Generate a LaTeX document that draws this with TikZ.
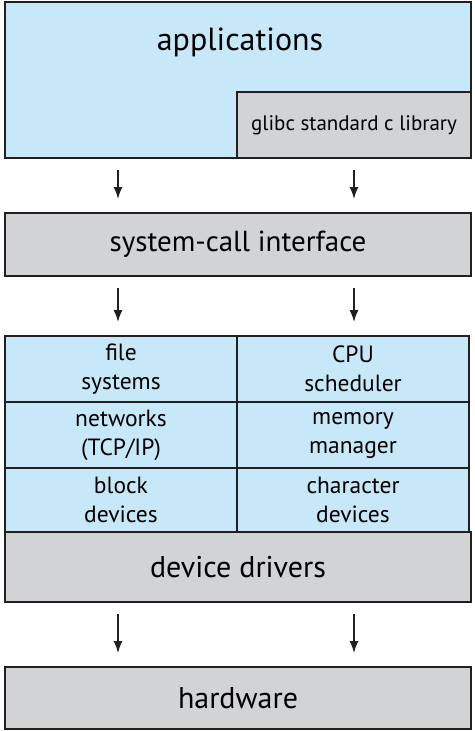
\documentclass[tikz,border=0pt]{standalone}
\usepackage{fontspec}
\setmainfont{PT Sans}
\usetikzlibrary{arrows.meta}

\definecolor{kblue}{HTML}{C7E8F8}
\definecolor{kgray}{HTML}{D2D3D5}
\definecolor{kline}{HTML}{231F20}

\tikzset{
  layer/.style={draw=kline, line width=2pt, anchor=north west, inner sep=0pt},
  big/.style={font=\fontsize{30}{34}\selectfont},
  cell/.style={layer, fill=kblue, minimum width=232pt, minimum height=66pt, align=center, font=\fontsize{23.5}{29}\selectfont},
  arr/.style={-{Latex[length=12pt,width=9pt]}, line width=1.4pt, color=kline}
}

\begin{document}
\begin{tikzpicture}[x=1pt,y=1pt]
	\useasboundingbox (0,0) rectangle (474,-731);

	% user space
	\node[layer, fill=kblue, minimum width=466pt, minimum height=156pt] (app) at (4,-1) {};
	\node[font=\fontsize{32}{36}\selectfont] (apptext) at (240,-42) {applications};
	\node[layer, fill=kgray, minimum width=234pt, minimum height=66pt, font=\fontsize{21}{24}\selectfont] (glibc) at (236,-91) {glibc standard c library};

	\node[layer, fill=kgray, minimum width=466pt, minimum height=63pt, font=\fontsize{29}{34}\selectfont] (sys) at (4,-212) {system-call interface};

	% kernel
	\node[cell] (fs) at (4,-335) {file\\systems};
	\node[cell] (cpu) at (236,-335) {CPU\\scheduler};
	\node[cell] (net) at (4,-401) {networks\\(TCP/IP)};
	\node[cell] (mem) at (236,-401) {memory\\manager};
	\node[cell, minimum height=64pt] (blk) at (4,-467) {block\\devices};
	\node[cell, minimum height=64pt] (chr) at (236,-467) {character\\devices};

	\node[layer, big, fill=kgray, minimum width=466pt, minimum height=70pt] (drv) at (4,-531) {device drivers};

	\node[layer, big, fill=kgray, minimum width=466pt, minimum height=62pt] (hw) at (4,-666) {hardware};

	% arrows
	\coordinate (colL) at (118,0);
	\coordinate (colR) at (354,0);
	\foreach \up/\down in {app/sys, sys/fs, drv/hw}{
		\draw[arr, shorten <=11pt, shorten >=13pt] (\up.south -| colL) -- (\down.north -| colL);
		\draw[arr, shorten <=11pt, shorten >=13pt] (\up.south -| colR) -- (\down.north -| colR);
	}
\end{tikzpicture}
\end{document}
